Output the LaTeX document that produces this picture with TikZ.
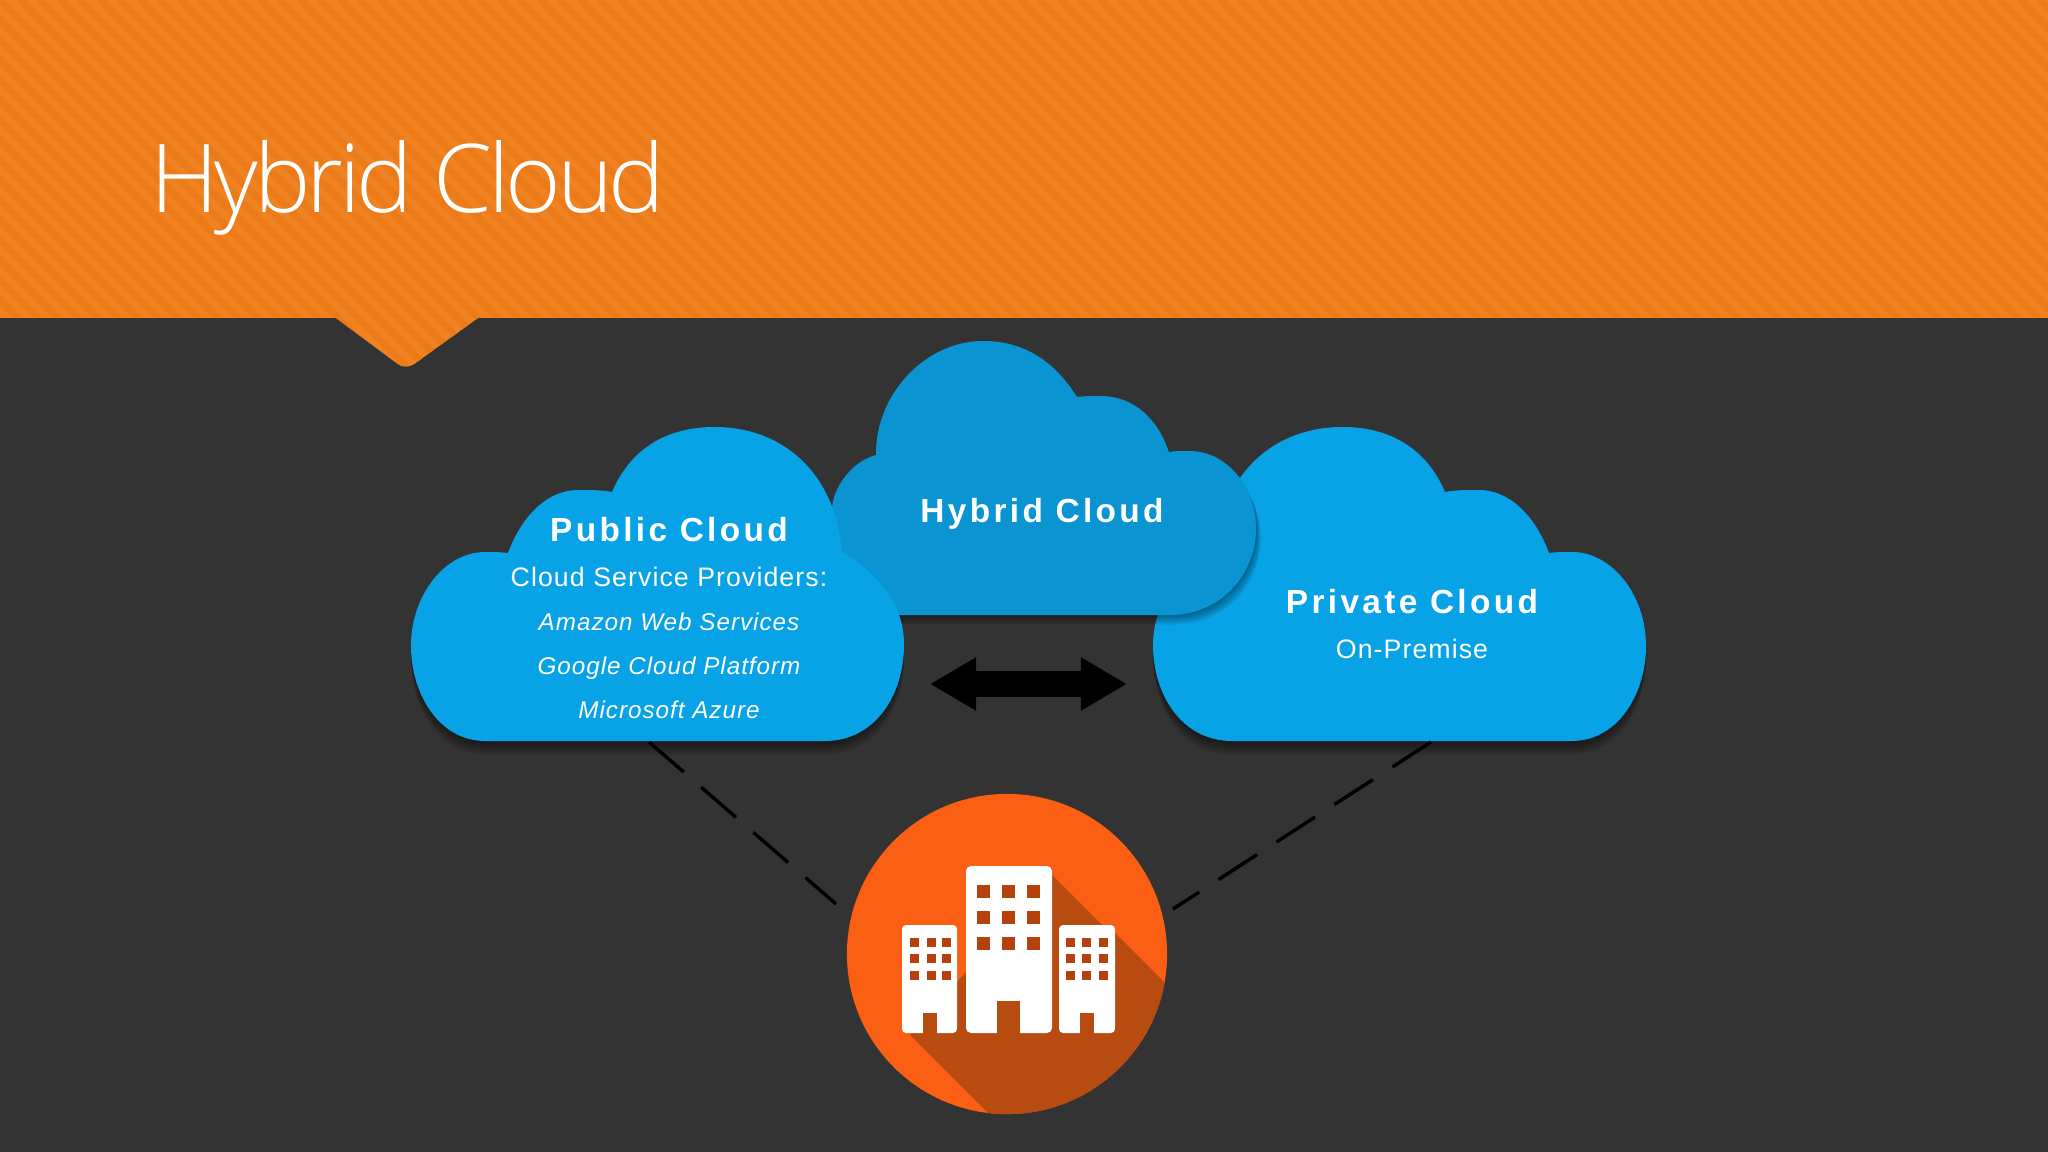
\documentclass[tikz,border=0pt]{standalone}
\usepackage{fontspec}
\usepackage{tikz}
\usetikzlibrary{arrows.meta}
\usetikzlibrary{positioning}
\setmainfont{Liberation Sans}
\newfontfamily\titlefont[LetterSpace=-4.4]{Open Sans Light}
\newfontfamily\cloudfont[LetterSpace=10]{Liberation Sans}
\newfontfamily\bodyfont[LetterSpace=4]{Liberation Sans}
\definecolor{slide}{HTML}{333333}
\definecolor{banner}{HTML}{F08222}
\definecolor{bannerdark}{HTML}{EA7B18}
\definecolor{cloudblue}{HTML}{08A3E6}
\definecolor{clouddark}{HTML}{0A94D2}
\definecolor{siteorange}{HTML}{FB5F13}
\definecolor{sitedark}{HTML}{B84B10}
\definecolor{windowdark}{HTML}{B5420C}
\newcommand{\bannershape}{(0,0) -- (2048,0) -- (2048,318) -- (478,318) -- (417,362)
  .. controls (410,368) and (402,368) .. (395,362) -- (336,318) -- (0,318) -- cycle}
\newcommand{\cloudshape}{(485,741) .. controls (440,741) and (411,695) .. (411,646)
  .. controls (411,595) and (445,552) .. (485,552) .. controls (492,552) and (500,552) .. (508,553)
  .. controls (520,520) and (545,490) .. (578,490) .. controls (590,490) and (602,490) .. (612,492)
  .. controls (630,450) and (665,427) .. (715,427) .. controls (780,427) and (835,470) .. (842,552)
  .. controls (880,575) and (904,605) .. (904,645) .. controls (904,695) and (875,741) .. (825,741) -- cycle}
\newcommand{\hybridshape}{(1170,615) .. controls (1220,615) and (1256,575) .. (1256,529)
  .. controls (1256,485) and (1225,451) .. (1190,451) .. controls (1183,451) and (1175,451) .. (1169,452)
  .. controls (1158,420) and (1135,396) .. (1100,396) .. controls (1093,396) and (1085,396) .. (1077,397)
  .. controls (1055,362) and (1025,341) .. (983,341) .. controls (925,341) and (875,395) .. (876,455)
  .. controls (850,462) and (832,490) .. (832,510) -- (850,615) -- cycle}
\tikzset{
  cloudhead/.style={text=white,font=\cloudfont\bfseries\fontsize{9.5}{11}\selectfont},
  cloudline/.style={text=white,font=\bodyfont\fontsize{7.6}{9}\selectfont},
  cloudname/.style={text=white,font=\bodyfont\itshape\fontsize{6.9}{9}\selectfont},
  link/.style={black,line width=0.035cm,dash pattern=on 0.46cm off 0.23cm}
}
\begin{document}
\begin{tikzpicture}[x=0.01cm,y=-0.01cm]
  \useasboundingbox (0,0) rectangle (2048,1152);
  \fill[slide] (0,0) rectangle (2048,1152);

  % banner
  \fill[banner] \bannershape;
  \begin{scope}
    \clip \bannershape;
    \foreach \i in {-400,-380,...,2100}
      \draw[bannerdark,line width=0.07cm] (\i,0) -- (\i+400,400);
  \end{scope}
  \node[text=white,font=\titlefont\fontsize{27}{32}\selectfont,anchor=base west,inner sep=0pt] (title) at (150,213) {Hybrid Cloud};

  % clouds
  \begin{scope}[shift={(2057,0)},xscale=-1]
    \foreach \s in {2,4,...,14}
      \fill[black,opacity=0.07,yshift=-\s*0.01cm] \cloudshape;
    \fill[cloudblue] \cloudshape;
  \end{scope}
  \foreach \s in {2,4,...,12}
    \fill[black,opacity=0.07,xshift=\s*0.004cm,yshift=-\s*0.008cm] \hybridshape;
  \fill[clouddark] \hybridshape;
  \foreach \s in {2,4,...,14}
    \fill[black,opacity=0.07,yshift=-\s*0.01cm] \cloudshape;
  \fill[cloudblue] \cloudshape;

  \node[cloudhead] (hybrid) at (1042,514) {Hybrid Cloud};
  \node[cloudhead] (public) at (669,530) {Public Cloud};
  \node[cloudline] (providers) at (669,577) {Cloud Service Providers:};
  \node[cloudname] (amazon) at (669,622) {Amazon Web Services};
  \node[cloudname] (google) at (669,668) {Google Cloud Platform};
  \node[cloudname] (azure) at (669,710) {Microsoft Azure};
  \node[cloudhead] (private) at (1412,602) {Private Cloud};
  \node[cloudline] (premise) at (1412,649) {On-Premise};

  % exchange arrow
  \coordinate (arrowl) at (930,684);
  \coordinate (arrowr) at (1127,684);
  \draw[line width=0.26cm,{Triangle[length=0.46cm,width=0.5cm]}-{Triangle[length=0.46cm,width=0.5cm]}] (arrowl) -- (arrowr);

  % site icon
  \node[circle,fill=siteorange,minimum size=3.2cm,inner sep=0pt] (site) at (1007,954) {};
  \begin{scope}
    \clip (1007,954) circle (1.6cm);
    \fill[sitedark] (1052,875) -- (1102,925) -- (1115,933) -- (1337,1155) -- (1075,1200) -- (910,1035) -- cycle;
  \end{scope}
  \fill[white,rounded corners=0.05cm] (966,866) rectangle (1052,1033);
  \fill[white,rounded corners=0.04cm] (902,925) rectangle (957,1033);
  \fill[white,rounded corners=0.04cm] (1059,925) rectangle (1115,1033);
  \fill[sitedark] (997,1001) rectangle (1020,1034);
  \fill[sitedark] (923,1013) rectangle (937,1034);
  \fill[sitedark] (1080,1013) rectangle (1094,1034);
  \foreach \c in {983,1008,1033}
    \foreach \r in {891,917,943}
      \fill[windowdark] (\c-6.5,\r-6.5) rectangle (\c+6.5,\r+6.5);
  \foreach \c in {914,931,946,1070,1086,1103}
    \foreach \r in {942,958,975}
      \fill[windowdark] (\c-4.5,\r-4.5) rectangle (\c+4.5,\r+4.5);

  % dashed links
  \coordinate (publicfoot) at (649,742);
  \coordinate (sitewest) at (836,904);
  \coordinate (privatefoot) at (1431,742);
  \coordinate (siteeast) at (1173,909);
  \draw[link] (publicfoot) -- (sitewest);
  \draw[link] (privatefoot) -- (siteeast);
\end{tikzpicture}
\end{document}
